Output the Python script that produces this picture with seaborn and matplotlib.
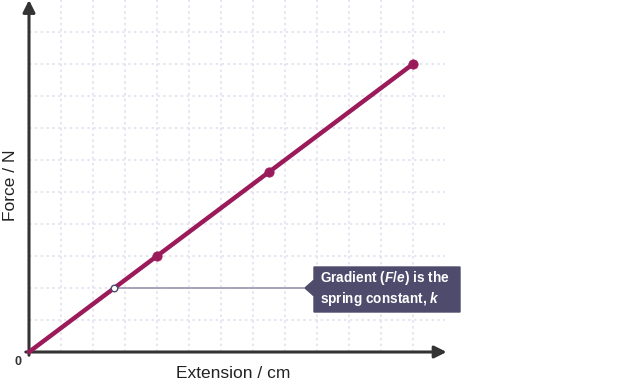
import matplotlib
matplotlib.use("Agg")
import matplotlib.pyplot as plt
import seaborn as sns
import pandas as pd
import numpy as np

sns.set_theme(style="white")
plt.rcParams['font.family'] = ['Liberation Sans', 'DejaVu Sans']
plt.rcParams['mathtext.fontset'] = 'custom'
plt.rcParams['mathtext.bfit'] = 'Liberation Sans:italic:bold'
plt.rcParams['mathtext.it'] = 'Liberation Sans:italic:bold'
plt.rcParams['mathtext.rm'] = 'Liberation Sans:bold'

# data (grid units)
line_x = [0, 12]
line_y = [0, 9]
point_x = [4, 7.5, 12]
point_y = [3, 5.625, 9]
open_x = [2.667]
open_y = [2]
x_grid = list(range(1, 13))
y_grid = list(range(1, 11))

line_color = "#9b1b5a"
axis_color = "#333333"
grid_color = "#e2e0ee"

fig = plt.figure(figsize=(6.24, 3.84), dpi=100)
ax = fig.add_axes([0, 0, 1, 1])
ax.set_xlim(-29/32, (624-29)/32)
ax.set_ylim(-1, 11)
ax.axis("off")

# grid
for gx in x_grid:
    ax.plot([gx, gx], [0, 11], color=grid_color, lw=1.2, ls=(0, (1.5, 2)), zorder=1)
for gy in y_grid:
    ax.plot([0, 13], [gy, gy], color=grid_color, lw=1.2, ls=(0, (1.5, 2)), zorder=1)

# gray pointer line
ax.plot([open_x[0], 8.6], [open_y[0], open_y[0]], color="#a09cb4", lw=1.3, zorder=2)

df_line = pd.DataFrame({"x": line_x, "y": line_y})
sns.lineplot(data=df_line, x="x", y="y", color=line_color, lw=3.2, ax=ax, zorder=4,
             legend=False)
df_pts = pd.DataFrame({"x": point_x, "y": point_y})
sns.scatterplot(data=df_pts, x="x", y="y", color=line_color, s=45, ax=ax, zorder=5,
                edgecolor=line_color, legend=False)
df_open = pd.DataFrame({"x": open_x, "y": open_y})
sns.scatterplot(data=df_open, x="x", y="y", color="white", s=22, ax=ax, zorder=6,
                edgecolor="#4e4a6b", linewidth=1.0, legend=False)

# axes with arrows
ax.annotate("", xy=(13.05, 0), xytext=(-0.1, 0),
            arrowprops=dict(arrowstyle="-|>,head_length=0.6,head_width=0.3",
                            color=axis_color, lw=2.2, shrinkA=0, shrinkB=0), zorder=3)
ax.annotate("", xy=(0, 11.0), xytext=(0, -0.1),
            arrowprops=dict(arrowstyle="-|>,head_length=0.6,head_width=0.3",
                            color=axis_color, lw=2.2, shrinkA=0, shrinkB=0), zorder=3)

ax.text(-0.35, -0.3, "0", fontsize=9, fontweight="bold", color=axis_color,
        ha="center", va="center")
ax.text((233-29)/32, (352-374)/32, "Extension / cm", fontsize=12.5, color="#222222",
        ha="center", va="center")
ax.text((11-29)/32, (352-185)/32, "Force / N", fontsize=12.5, color="#222222",
        ha="center", va="center", rotation=90)

# annotation box
box_x0, box_x1 = (314-29)/32, (460-29)/32
box_y0, box_y1 = (352-312)/32, (352-267)/32
tip = (305-29)/32
box_color = "#4f4b6d"
ax.fill([box_x0, box_x1, box_x1, box_x0, box_x0, tip, box_x0],
        [box_y0, box_y0, box_y1, box_y1, 2.25, 2.0, 1.75], color=box_color, zorder=7)
ax.text(box_x0 + 0.2, (box_y0 + box_y1)/2 + 0.02,
        "Gradient ($F/e$) is the\nspring constant, $k$",
        color="white", fontsize=9.8, fontweight="bold", ha="left", va="center",
        linespacing=1.25, zorder=8)

fig.savefig("out.png", dpi=100)
